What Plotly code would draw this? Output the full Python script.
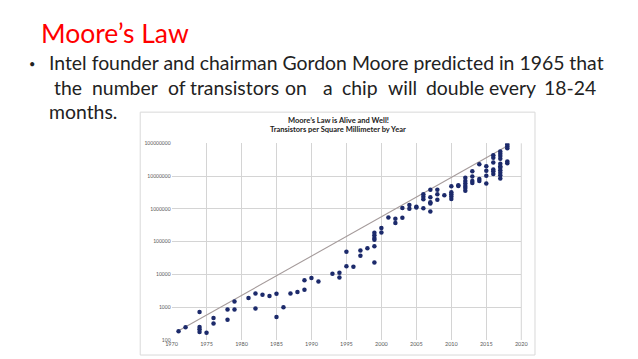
import plotly.graph_objects as go

W, H = 638, 359

# ---- data ----
years = (
    [1971, 1972] + [1974] * 4 + [1975] + [1976] * 2 + [1978] * 2 + [1979] * 2 +
    [1981] + [1982] * 2 + [1983, 1984] + [1985] * 2 + [1986, 1987, 1988] + [1989] * 2 +
    [1990, 1991, 1993] + [1994] * 2 + [1995] * 2 + [1996] + [1997] * 2 + [1998] +
    [1999] * 6 + [2000] * 2 + [2001] + [2002] * 2 + [2003] * 2 + [2004] * 2 + [2005] * 2 +
    [2006] * 4 + [2007] * 5 + [2008] * 3 + [2009] + [2010] * 5 + [2011] * 2 +
    [2012] * 6 + [2013] * 4 + [2014] * 3 + [2015] * 4 + [2016] * 6 + [2017] * 11 + [2018] * 5
)
density = (
    [185, 243] + [708, 251, 213, 176] + [166] + [470, 316] + [417, 850] + [1480, 850] +
    [1900] + [2630, 910] + [2400, 2200] + [2560, 500] + [990, 2630, 2900] + [3400, 6600] +
    [7800, 6100, 10500] + [11300, 8100] + [17800, 49000] + [17000] + [37000, 54000] + [63000] +
    [23000, 72000, 115000, 130000, 158000, 188000] + [190000, 260000] + [550000] + [370000, 500000] +
    [540000, 1070000] + [1320000, 1000000] + [1100000, 1160000] +
    [1050000, 1950000, 2350000, 2800000] + [3800000, 2250000, 1600000, 1450000, 830000] +
    [3800000, 2800000, 1900000] + [2600000] + [4900000, 3200000, 2800000, 2400000, 2000000] +
    [5300000, 5000000] +
    [8900000, 7100000, 5900000, 5000000, 4300000, 3600000] +
    [14000000, 9800000, 7100000, 6200000] + [23000000, 8100000, 7100000] +
    [20000000, 14500000, 10200000, 5900000] +
    [43000000, 36000000, 26000000, 16000000, 14000000, 11500000] +
    [56000000, 48000000, 41000000, 34000000, 24000000, 20000000, 18000000, 15000000,
     12600000, 10700000, 8500000] +
    [93000000, 81000000, 71000000, 28000000, 24500000]
)
trend_years = [1971, 2018.3]
trend_values = [190, 90000000]

x_ticks = [1970, 1975, 1980, 1985, 1990, 1995, 2000, 2005, 2010, 2015, 2020]
y_ticks = [100, 1000, 10000, 100000, 1000000, 10000000, 100000000]
y_tick_labels = [str(v) for v in y_ticks]

slide_title = "Moore’s Law"
bullet_line1 = "Intel founder and chairman Gordon Moore predicted in 1965 that"
bullet_line2_words = ["the", "number", "of", "transistors", "on", "a", "chip", "will",
                      "double", "every", "18-24"]
bullet_line3 = "months."
chart_title = ["Moore’s Law is Alive and Well!", "Transistors per Square Millimeter by Year"]

# layout: centre x (px) of each justified word on line 2
line2_word_cx = [63.5, 121.5, 175, 233, 296, 328.5, 361, 405, 458.5, 517.5, 575.5]


def px(x):
    return x / W


def py(y):
    return 1 - y / H


fig = go.Figure()
fig.add_trace(go.Scatter(
    x=trend_years, y=trend_values, mode="lines",
    line=dict(color="#a59b9b", width=1.1), hoverinfo="skip", showlegend=False,
))
fig.add_trace(go.Scatter(
    x=years, y=density, mode="markers",
    marker=dict(color="#1c2a6b", size=4.5), showlegend=False,
))

fig.update_layout(
    width=W, height=H, autosize=False,
    margin=dict(l=0, r=0, t=0, b=0),
    paper_bgcolor="white", plot_bgcolor="white",
    xaxis=dict(
        domain=[px(169), px(526)], range=[1970, 2020], tickvals=x_ticks,
        showgrid=True, gridcolor="#d4d4d4", gridwidth=1, zeroline=False,
        showline=False, ticks="", tickfont=dict(family="Lato", size=5.5, color="#595959"),
    ),
    yaxis=dict(
        domain=[py(342.7), py(142.7)], type="log", range=[2, 8],
        tickvals=y_ticks, ticktext=y_tick_labels,
        showgrid=True, gridcolor="#d4d4d4", gridwidth=1, zeroline=False,
        showline=False, ticks="", tickfont=dict(family="Lato", size=5, color="#595959"),
    ),
    shapes=[
        dict(type="rect", xref="paper", yref="paper",
             x0=px(137), x1=px(540), y0=py(358), y1=py(111),
             line=dict(color="#d9d9d9", width=1), fillcolor="rgba(0,0,0,0)", layer="below"),
        dict(type="line", xref="paper", yref="paper",
             x0=px(526), x1=px(526), y0=py(342.7), y1=py(142.7),
             line=dict(color="#d4d4d4", width=1)),
    ],
)

TXT = dict(family="Lato", size=19.4, color="#222222")
ann = []
ann.append(dict(text=slide_title, x=px(34), y=py(30.5), xref="paper", yref="paper",
                xanchor="left", yanchor="middle", showarrow=False,
                font=dict(family="Lato", size=26.5, color="#ff0000")))
ann.append(dict(text="•", x=px(26.5), y=py(61.5), xref="paper", yref="paper",
                xanchor="center", yanchor="middle", showarrow=False,
                font=dict(family="Lato", size=11, color="#222222")))
ann.append(dict(text=bullet_line1, x=px(42), y=py(60.5), xref="paper", yref="paper",
                xanchor="left", yanchor="middle", showarrow=False, font=TXT))
for w, wx in zip(bullet_line2_words, line2_word_cx):
    ann.append(dict(text=w, x=px(wx), y=py(86), xref="paper", yref="paper",
                    xanchor="center", yanchor="middle", showarrow=False, font=TXT))
ann.append(dict(text=bullet_line3, x=px(42), y=py(110.5), xref="paper", yref="paper",
                xanchor="left", yanchor="middle", showarrow=False, font=TXT))
for i, t in enumerate(chart_title):
    ann.append(dict(text="<b>" + t + "</b>", x=px(339), y=py(120 + i * 9), xref="paper", yref="paper",
                    xanchor="center", yanchor="middle", showarrow=False,
                    font=dict(family="Lato", size=7.5, color="#222222")))
fig.update_layout(annotations=ann)

fig.write_html("out.html", config={"displayModeBar": False},
               post_script="document.body.style.margin='0';")
